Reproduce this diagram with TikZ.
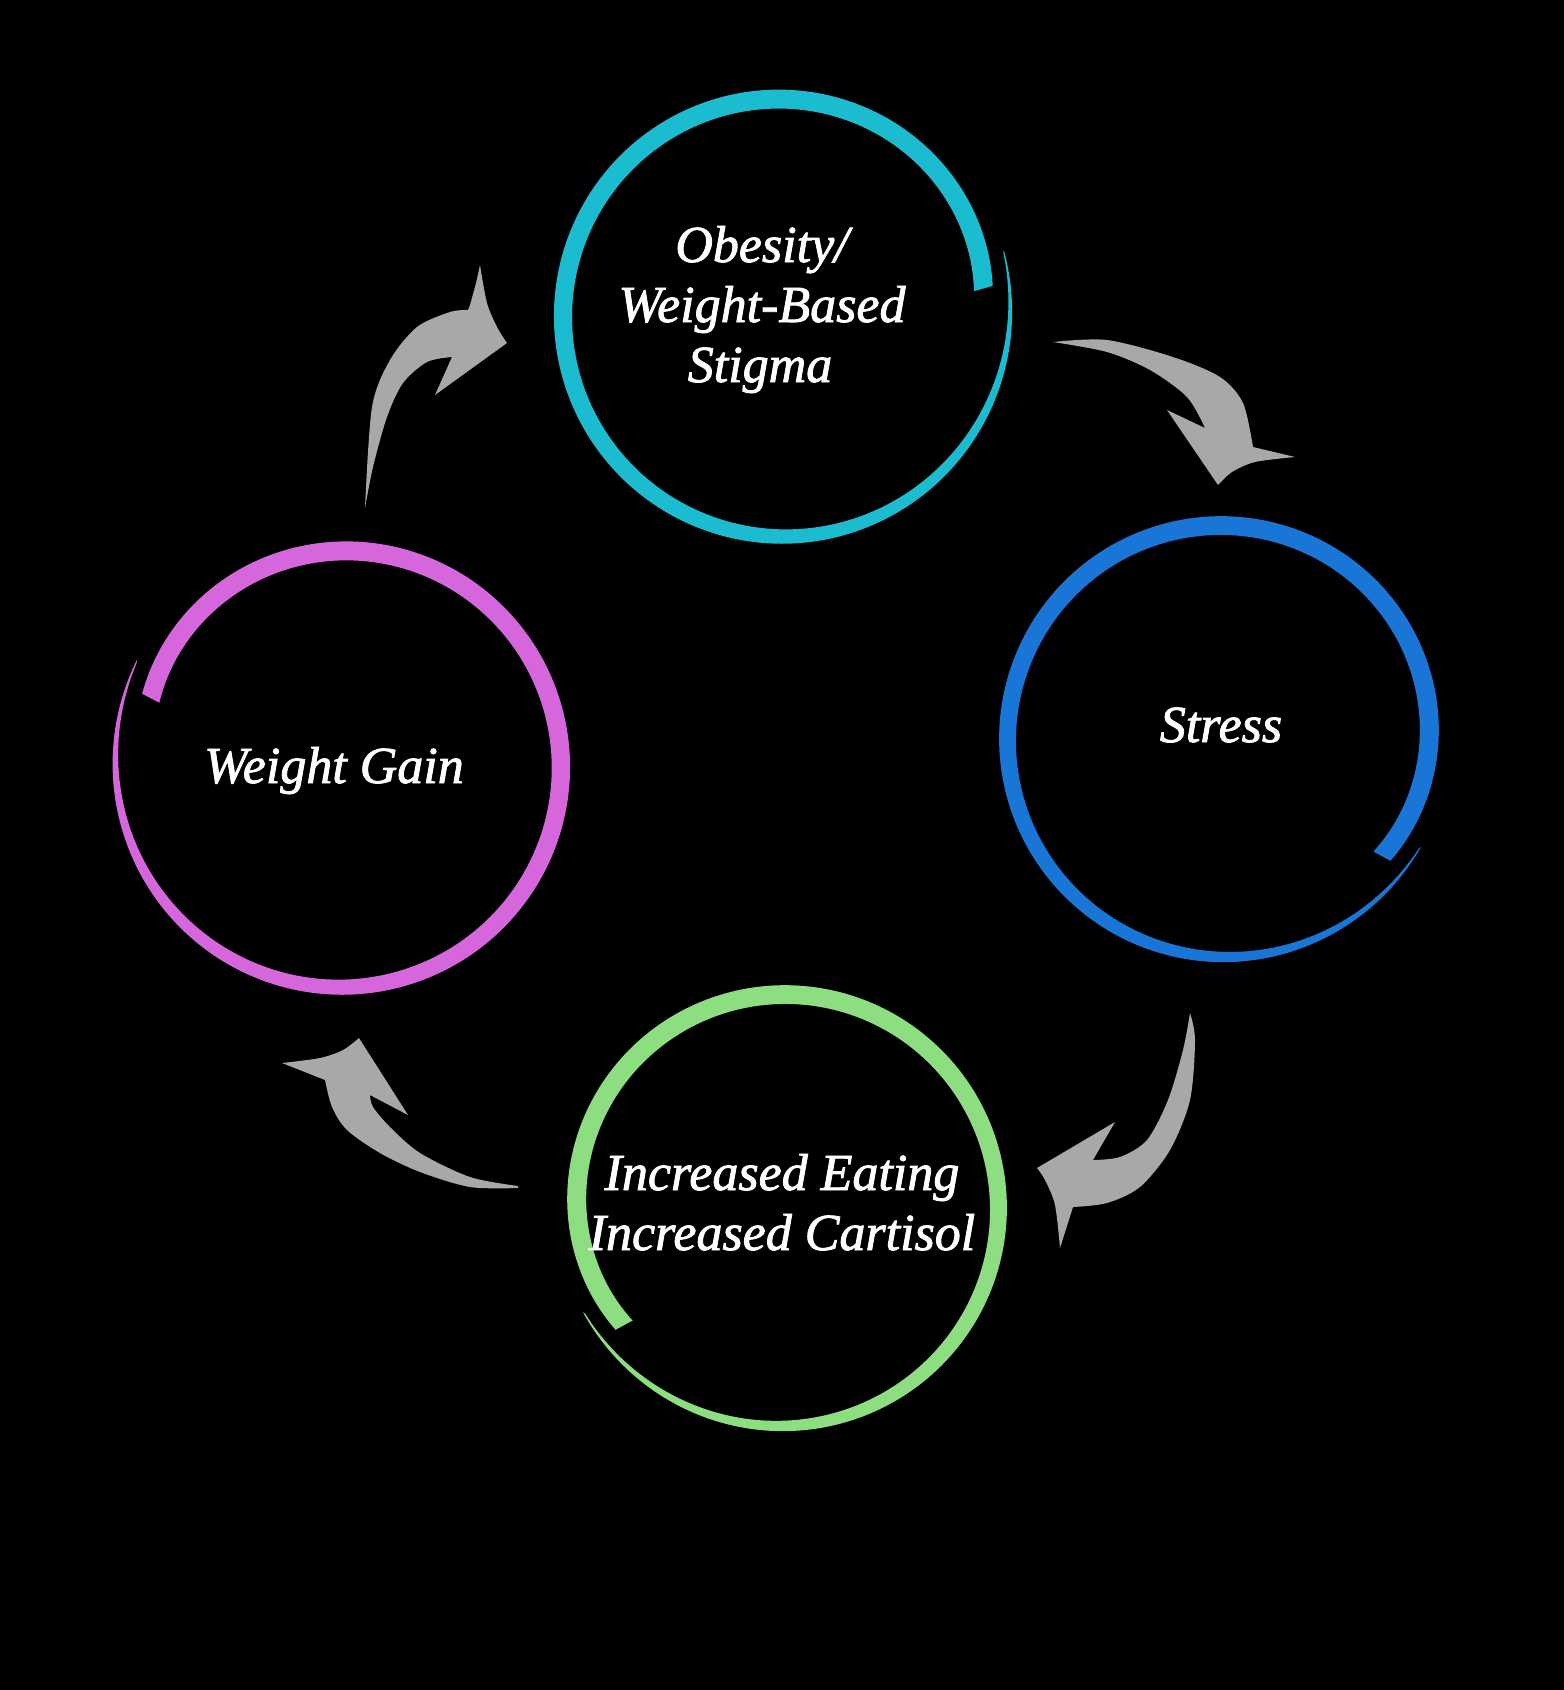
\documentclass[tikz,border=0pt]{standalone}
\usepackage{fontspec}
\setmainfont{Liberation Serif}[ItalicFeatures={FakeBold=1.6}]
\definecolor{ringcyan}{RGB}{28,188,208}
\definecolor{ringblue}{RGB}{26,118,214}
\definecolor{ringmagenta}{RGB}{214,102,220}
\definecolor{ringgreen}{RGB}{140,222,128}
\definecolor{arrowgray}{RGB}{168,168,168}
\tikzset{
  declare function={rr(\t,\R)=\R+12*(1-\t)^6-16*(\t)^8; ww(\t)=1+18*(1-(1-\t)^4);},
  lbl/.style={text=white, font=\fontsize{52}{60}\selectfont\itshape, inner sep=0pt},
  hub/.style={circle, minimum size=440pt, inner sep=0pt, draw=none},
  swoosh/.style={fill=arrowgray}
}
% #1 colour, #2 cx, #3 cy, #4 start angle, #5 sweep, #6 radius
\newcommand\brushring[6]{%
  \fill[#1] plot[domain=0.001:0.999,samples=260,variable=\t]
    ({#2+(rr(\t,#6)+ww(\t)/2)*cos(#4+#5*\t)},{#3+(rr(\t,#6)+ww(\t)/2)*sin(#4+#5*\t)})
  -- plot[domain=0.001:0.999,samples=260,variable=\t]
    ({#2+(rr(1-\t,#6)-ww(1-\t)/2)*cos(#4+#5*(1-\t))},{#3+(rr(1-\t,#6)-ww(1-\t)/2)*sin(#4+#5*(1-\t))})
  -- cycle;}
\begin{document}
\begin{tikzpicture}[x=1pt,y=-1pt]
\fill[black] (0,0) rectangle (1564,1690);
\useasboundingbox (0,0) rectangle (1564,1690);

% circles
\node[hub] (obesity) at (782,316) {};
\node[hub] (stress) at (1222,739) {};
\node[hub] (gain) at (342,767) {};
\node[hub] (eating) at (784,1208) {};

\brushring{ringcyan}{782}{316}{-17}{370}{219}
\brushring{ringblue}{1222}{739}{28}{369}{214}
\brushring{ringmagenta}{342}{767}{208}{-369}{219}
\brushring{ringgreen}{784}{1208}{153}{-370}{214}

% labels
\node[lbl, anchor=base] (ob1) at (762,262) {Obesity/};
\node[lbl, anchor=base] (ob2) at (762,322) {Weight-Based};
\node[lbl, anchor=base] (ob3) at (760,382) {Stigma};
\node[lbl, anchor=base] (st) at (1221,742) {Stress};
\node[lbl, anchor=base] (wg) at (334,783) {Weight Gain};
\node[lbl, anchor=base] (ie1) at (782,1190) {Increased Eating};
\node[lbl, anchor=base] (ie2) at (782,1250) {Increased Cartisol};

% arrow: Weight Gain -> Obesity
\fill[swoosh] plot[smooth] coordinates {(365,508) (372,407) (390,360) (417,327) (450,312) (468,310)}
  -- plot[smooth] coordinates {(470,305) (476,283) (480,265)}
  -- plot[smooth] coordinates {(480,265) (487,303) (497,327) (507,343)}
  -- (435,395) -- (452,357)
  -- plot[smooth] coordinates {(452,357) (427,362) (403,383) (387,417) (373,467) (365,508)} -- cycle;

% arrow: Obesity -> Stress
\fill[swoosh] plot[smooth] coordinates {(1053,342) (1107,340) (1173,357) (1220,377) (1243,403) (1253,447)}
  -- (1295,457)
  -- plot[smooth] coordinates {(1295,457) (1255,462) (1232,472) (1218,485)}
  -- (1167,410) -- (1205,428)
  -- plot[smooth] coordinates {(1205,428) (1187,397) (1150,370) (1107,352) (1053,342)} -- cycle;

% arrow: Stress -> Increased
\fill[swoosh] plot[smooth] coordinates {(1190,1013) (1195,1040) (1190,1100) (1170,1150) (1140,1187) (1107,1203) (1073,1207)}
  -- (1060,1248)
  -- plot[smooth] coordinates {(1060,1248) (1055,1205) (1045,1180) (1037,1168)}
  -- (1115,1122) -- (1093,1160)
  -- plot[smooth] coordinates {(1093,1160) (1120,1157) (1147,1140) (1168,1100) (1183,1050) (1190,1013)} -- cycle;

% arrow: Increased -> Weight Gain
\fill[swoosh] plot[smooth] coordinates {(518,1188) (470,1187) (420,1172) (380,1153) (347,1130) (332,1107) (325,1080)}
  -- (282,1063)
  -- plot[smooth] coordinates {(282,1063) (320,1058) (343,1050) (359,1038)}
  -- (408,1115) -- (370,1095)
  -- plot[smooth] coordinates {(370,1095) (373,1107) (390,1127) (420,1153) (470,1177) (518,1186)} -- cycle;
\end{tikzpicture}
\end{document}
